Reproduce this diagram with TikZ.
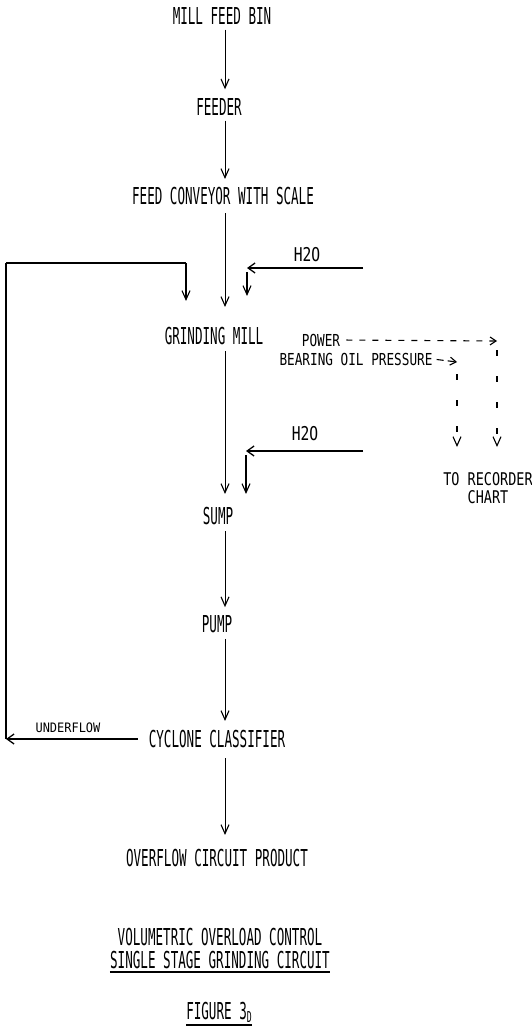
\documentclass[tikz,border=0pt]{standalone}
\usepackage{fontspec}
\usetikzlibrary{arrows.meta}
\newfontfamily\fm[FakeStretch=0.54]{DejaVu Sans Mono}
\newfontfamily\fs[FakeStretch=0.77]{DejaVu Sans Mono}
\newfontfamily\fu[FakeStretch=0.92]{DejaVu Sans Mono}
\begin{document}
\begin{tikzpicture}[x=1pt,y=-1pt,
  lbl/.style={inner sep=0pt, font=\fm\fontsize{23.3}{24}\selectfont},
  sm/.style={inner sep=0pt, font=\fs\fontsize{16.5}{18}\selectfont},
  flow/.style={line width=0.9pt, -{Straight Barb[length=9pt,width=8pt,line width=1.1pt]}},
  feed/.style={line width=2.4pt, -{Straight Barb[length=7pt,width=10pt,line width=1.3pt]}},
  sigh/.style={line width=1.1pt, dash pattern=on 6pt off 7pt},
  sigv/.style={line width=1.1pt, dash pattern=on 6pt off 20pt},
  sigtip/.style={-{Straight Barb[length=6pt,width=8pt,line width=1.1pt]}}]
\useasboundingbox (0,0) rectangle (531,1030);
\fill[white] (0,0) rectangle (531,1030);
\coordinate (spine) at (225,0);
% main chain
\node[lbl] (bin) at (222,16) {MILL FEED BIN};
\node[lbl] (feeder) at (219,107) {FEEDER};
\node[lbl] (conv) at (223,196) {FEED CONVEYOR WITH SCALE};
\node[lbl] (mill) at (214,336) {GRINDING MILL};
\node[lbl] (sump) at (218,516) {SUMP};
\node[lbl] (pump) at (217,624) {PUMP};
\node[lbl] (cyc) at (217,739) {CYCLONE CLASSIFIER};
\node[lbl] (over) at (217,858) {OVERFLOW CIRCUIT PRODUCT};
\draw[flow, shorten <=5pt, shorten >=9pt] (bin.south -| spine) -- (feeder.north -| spine);
\draw[flow, shorten <=5pt, shorten >=8pt] (feeder.south -| spine) -- (conv.north -| spine);
\draw[flow, shorten <=8pt, shorten >=20pt] (conv.south -| spine) -- (mill.north -| spine);
\draw[flow, shorten <=6pt, shorten >=13pt] (mill.south -| spine) -- (sump.north -| spine);
\draw[flow, shorten <=6pt, shorten >=8pt] (sump.south -| spine) -- (pump.north -| spine);
\draw[flow, shorten <=6pt, shorten >=9pt] (pump.south -| spine) -- (cyc.north -| spine);
\draw[flow, shorten <=10pt, shorten >=14pt] (cyc.south -| spine) -- (over.north -| spine);
% recycle loop
\coordinate (ul) at (6,739);
\coordinate (tl) at (6,263);
\coordinate (tr) at (186,263);
\node[inner sep=0pt, font=\fu\fontsize{13}{13}\selectfont] (uf) at (68,728) {UNDERFLOW};
\draw[feed, line width=2pt, shorten <=11pt] (cyc.west) -- (cyc.west -| ul);
\draw[line width=1.3pt] (ul) -- (tl);
\draw[line width=2.4pt] (tl) -- (tr);
\draw[flow, line width=1.2pt, shorten >=26pt] (tr) -- (tr |- mill.north);
% water 1
\coordinate (w1) at (363,268);
\coordinate (w1c) at (247,268);
\node[sm, font=\fs\fontsize{19}{19}\selectfont] (h1) at (307,255) {H2O};
\draw[feed] (w1) -- (w1c);
\draw[flow, line width=1.4pt, shorten <=4pt, shorten >=31pt] (w1c) -- (w1c |- mill.north);
% water 2
\coordinate (w2) at (363,451);
\coordinate (w2c) at (246,451);
\node[sm, font=\fs\fontsize{19}{19}\selectfont] (h2) at (305,434) {H2O};
\draw[feed] (w2) -- (w2c);
\draw[flow, line width=1.2pt, shorten <=4pt, shorten >=13pt] (w2c) -- (w2c |- sump.north);
% signals
\node[sm] (power) at (321,340) {POWER};
\node[sm] (boil) at (356,359) {BEARING OIL PRESSURE};
\node[sm, font=\fs\fontsize{17.5}{18}\selectfont, align=center, anchor=north] (rec) at (488,472) {TO RECORDER\\CHART};
\coordinate (pc) at (497,341);
\coordinate (bc) at (457,362);
\draw[sigh, sigtip, shorten <=6pt] (power.east) -- (pc);
\draw[sigv, flow, line width=1.1pt, shorten >=25pt] (pc) ++(0,9) -- (pc |- rec.north);
\draw[line width=1.1pt, dash pattern=on 7pt off 4pt, sigtip, shorten <=4pt] (boil.east) -- (bc);
\draw[sigv, flow, line width=1.1pt, shorten >=25pt] (bc) ++(0,12) -- (bc |- rec.north);
% titles
\node[lbl, anchor=base] (t1) at (220,945) {VOLUMETRIC OVERLOAD CONTROL};
\node[lbl, anchor=base] (t2) at (220,968) {SINGLE STAGE GRINDING CIRCUIT};
\draw[line width=1.8pt] ([yshift=-4pt]t2.base west) -- ([yshift=-4pt]t2.base east);
\node[lbl, anchor=base] (fig) at (219,1019) {FIGURE 3\raisebox{-3pt}{\fontsize{15}{15}\selectfont D}};
\draw[line width=1.6pt] ([yshift=-6pt]fig.base west) -- ([yshift=-6pt]fig.base east);
\end{tikzpicture}
\end{document}
